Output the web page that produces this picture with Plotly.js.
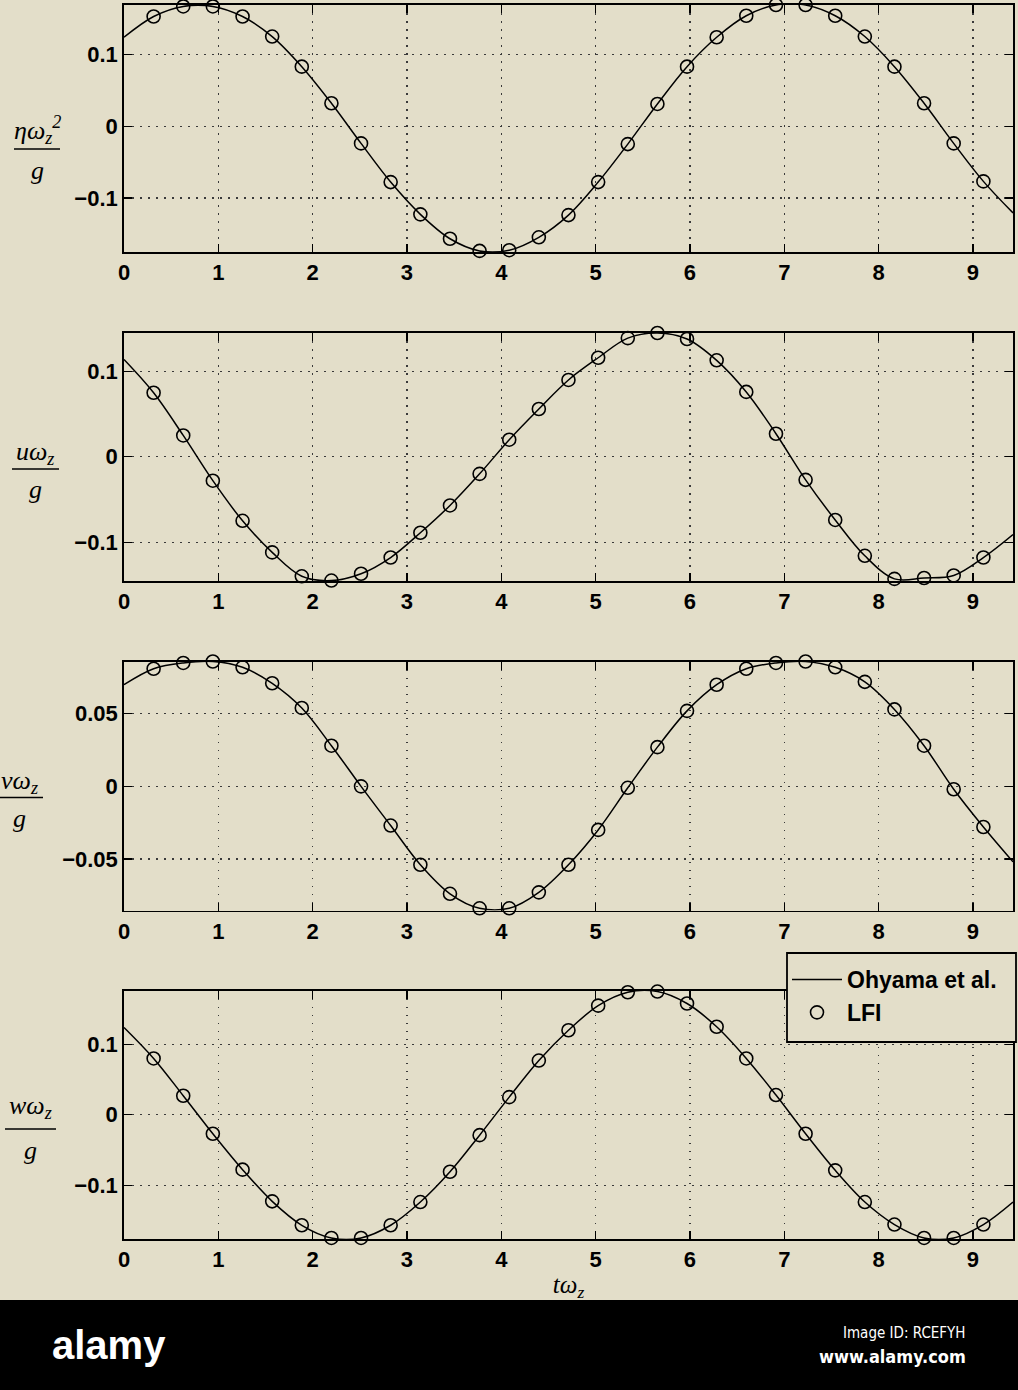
<!DOCTYPE html>
<html><head><meta charset="utf-8">
<script src="https://cdn.plot.ly/plotly-3.0.1.min.js"></script>
<style>html,body{margin:0;padding:0;background:#e3dec9;}#chart{width:1018px;height:1390px;}</style>
</head><body><div id="chart"></div>
<script>
// time samples (t*omega_z)
const tLine = [0, 0.314, 0.628, 0.942, 1.257, 1.571, 1.885, 2.199, 2.513, 2.827, 3.142, 3.456, 3.770, 4.084, 4.398, 4.712, 5.027, 5.341, 5.655, 5.969, 6.283, 6.597, 6.912, 7.226, 7.540, 7.854, 8.168, 8.482, 8.796, 9.111, 9.425];
const tLFI = [0.314, 0.628, 0.942, 1.257, 1.571, 1.885, 2.199, 2.513, 2.827, 3.142, 3.456, 3.770, 4.084, 4.398, 4.712, 5.027, 5.341, 5.655, 5.969, 6.283, 6.597, 6.912, 7.226, 7.540, 7.854, 8.168, 8.482, 8.796, 9.111];

// Ohyama et al. (line)
const etaOhyama = [0.124, 0.153, 0.167, 0.167, 0.153, 0.125, 0.083, 0.032, -0.024, -0.078, -0.123, -0.157, -0.174, -0.173, -0.155, -0.124, -0.078, -0.025, 0.031, 0.083, 0.124, 0.154, 0.169, 0.169, 0.154, 0.125, 0.083, 0.032, -0.024, -0.077, -0.121];
const uOhyama = [0.114, 0.075, 0.025, -0.028, -0.075, -0.112, -0.140, -0.145, -0.137, -0.118, -0.089, -0.057, -0.020, 0.020, 0.056, 0.090, 0.116, 0.139, 0.145, 0.138, 0.113, 0.076, 0.027, -0.027, -0.074, -0.116, -0.143, -0.142, -0.139, -0.118, -0.091];
const vOhyama = [0.070, 0.081, 0.085, 0.086, 0.082, 0.071, 0.054, 0.028, 0.000, -0.027, -0.054, -0.074, -0.084, -0.084, -0.073, -0.054, -0.030, -0.001, 0.027, 0.052, 0.070, 0.081, 0.085, 0.086, 0.082, 0.072, 0.053, 0.028, -0.002, -0.028, -0.052];
const wOhyama = [0.124, 0.080, 0.027, -0.027, -0.078, -0.123, -0.157, -0.175, -0.175, -0.157, -0.124, -0.081, -0.029, 0.025, 0.077, 0.120, 0.155, 0.174, 0.175, 0.158, 0.125, 0.080, 0.028, -0.027, -0.079, -0.124, -0.156, -0.175, -0.175, -0.156, -0.124];

// LFI (circles)
const etaLFI = [0.153, 0.167, 0.167, 0.153, 0.125, 0.083, 0.032, -0.024, -0.078, -0.123, -0.157, -0.174, -0.173, -0.155, -0.124, -0.078, -0.025, 0.031, 0.083, 0.124, 0.154, 0.169, 0.169, 0.154, 0.125, 0.083, 0.032, -0.024, -0.077];
const uLFI = [0.075, 0.025, -0.028, -0.075, -0.112, -0.140, -0.145, -0.137, -0.118, -0.089, -0.057, -0.020, 0.020, 0.056, 0.090, 0.116, 0.139, 0.145, 0.138, 0.113, 0.076, 0.027, -0.027, -0.074, -0.116, -0.143, -0.142, -0.139, -0.118];
const vLFI = [0.081, 0.085, 0.086, 0.082, 0.071, 0.054, 0.028, 0.000, -0.027, -0.054, -0.074, -0.084, -0.084, -0.073, -0.054, -0.030, -0.001, 0.027, 0.052, 0.070, 0.081, 0.085, 0.086, 0.082, 0.072, 0.053, 0.028, -0.002, -0.028];
const wLFI = [0.080, 0.027, -0.027, -0.078, -0.123, -0.157, -0.175, -0.175, -0.157, -0.124, -0.081, -0.029, 0.025, 0.077, 0.120, 0.155, 0.174, 0.175, 0.158, 0.125, 0.080, 0.028, -0.027, -0.079, -0.124, -0.156, -0.175, -0.175, -0.156];

const seriesNames = ['Ohyama et al.', 'LFI'];
const yTickVals = [[-0.1, 0, 0.1], [-0.1, 0, 0.1], [-0.05, 0, 0.05], [-0.1, 0, 0.1]];
const yRanges = [[-0.1755, 0.169], [-0.1455, 0.145], [-0.0855, 0.086], [-0.1765, 0.1765]];
const xTickVals = [0, 1, 2, 3, 4, 5, 6, 7, 8, 9];

const lines = [etaOhyama, uOhyama, vOhyama, wOhyama];
const dots = [etaLFI, uLFI, vLFI, wLFI];

const W = 1018, H = 1390;
const px = v => v / W, py = v => 1 - v / H;
const BG = '#e3dec9';
const sans = 'Liberation Sans, Arial, Helvetica, sans-serif';
const serif = 'Liberation Serif, DejaVu Serif, Times New Roman, serif';

// panel boxes in pixels: [top, bottom]
const boxes = [[5, 252], [333, 581], [661.5, 910.5], [990.5, 1239]];
const xDom = [px(124), px(1013)];

const data = [];
const layout = {
  width: W, height: H,
  margin: {l: 0, r: 0, t: 0, b: 0},
  paper_bgcolor: BG, plot_bgcolor: BG,
  font: {family: sans, color: '#000', size: 22},
  showlegend: true,
  legend: {
    x: px(787), y: py(958), xanchor: 'left', yanchor: 'top',
    bgcolor: 'rgba(0,0,0,0)', borderwidth: 0,
    font: {family: sans, size: 23, color: '#000', weight: 'bold'},
    itemwidth: 50, tracegroupgap: 0
  },
  shapes: [], annotations: []
};

for (let i = 0; i < 4; i++) {
  const sfx = i === 0 ? '' : String(i + 1);
  data.push({
    x: tLine, y: lines[i], type: 'scatter', mode: 'lines',
    name: seriesNames[0], showlegend: i === 0, legendgroup: 'g',
    line: {color: '#000', width: 1.5, shape: 'spline', smoothing: 1},
    xaxis: 'x' + sfx, yaxis: 'y' + sfx, cliponaxis: false
  });
  data.push({
    x: tLFI, y: dots[i], type: 'scatter', mode: 'markers',
    name: seriesNames[1], showlegend: i === 0, legendgroup: 'g',
    marker: {symbol: 'circle-open', size: 13, color: '#000', line: {width: 1.6, color: '#000'}},
    xaxis: 'x' + sfx, yaxis: 'y' + sfx, cliponaxis: false
  });
  const common = {
    ticks: 'inside', ticklen: 8, tickwidth: 1.3, tickcolor: '#000',
    showline: true, linecolor: '#000', linewidth: 1.8, mirror: 'ticks',
    showgrid: true, gridcolor: '#3a3a3a', gridwidth: 1.3, griddash: '1.5px,6.5px',
    zeroline: false, fixedrange: true,
    tickfont: {family: sans, size: 22, color: '#000', weight: 'bold'}
  };
  layout['xaxis' + sfx] = Object.assign({}, common, {
    domain: xDom, range: [0, 9.4248], tickvals: xTickVals,
    anchor: 'y' + sfx
  });
  layout['yaxis' + sfx] = Object.assign({}, common, {
    domain: [py(boxes[i][1]), py(boxes[i][0])], range: yRanges[i],
    tickvals: yTickVals[i], anchor: 'x' + sfx, ticklabelstandoff: 0
  });
}
layout.xaxis4.title = {text: '<i>tω<sub>z</sub></i>', font: {family: serif, size: 25, color: '#000'}, standoff: 4};

// legend frame (covers the top-right corner of the last panel)
layout.shapes.push({type: 'rect', xref: 'paper', yref: 'paper', x0: px(787), x1: px(1016),
  y0: py(1042), y1: py(953), fillcolor: BG, line: {color: '#000', width: 1.8}, layer: 'above'});

// y-axis labels drawn as fractions
const yLabels = [
  {num: '<i>ηω<sub>z</sub><sup>2</sup></i>', cx: 37, ny: 130, by: 149, bx0: 14, bx1: 60, gy: 171},
  {num: '<i>uω<sub>z</sub></i>', cx: 35, ny: 453, by: 469, bx0: 12, bx1: 59, gy: 489},
  {num: '<i>vω<sub>z</sub></i>', cx: 19, ny: 782, by: 797.5, bx0: 0, bx1: 43, gy: 818},
  {num: '<i>wω<sub>z</sub></i>', cx: 30, ny: 1107, by: 1129, bx0: 5, bx1: 56, gy: 1150}
];
yLabels.forEach(l => {
  layout.annotations.push({xref: 'paper', yref: 'paper', x: px(l.cx), y: py(l.ny), text: l.num,
    showarrow: false, xanchor: 'center', yanchor: 'middle', font: {family: serif, size: 26, color: '#000'}});
  layout.annotations.push({xref: 'paper', yref: 'paper', x: px(l.cx), y: py(l.gy), text: '<i>g</i>',
    showarrow: false, xanchor: 'center', yanchor: 'middle', font: {family: serif, size: 26, color: '#000'}});
  layout.shapes.push({type: 'line', xref: 'paper', yref: 'paper', x0: px(l.bx0), x1: px(l.bx1),
    y0: py(l.by), y1: py(l.by), line: {color: '#000', width: 1.6}});
});

// bottom banner
layout.shapes.push({type: 'rect', xref: 'paper', yref: 'paper', x0: 0, x1: 1, y0: 0, y1: py(1300),
  fillcolor: '#000', line: {width: 0}, layer: 'above'});
layout.annotations.push({xref: 'paper', yref: 'paper', x: px(50), y: py(1345), text: '<b>alamy</b>',
  showarrow: false, xanchor: 'left', yanchor: 'middle',
  font: {family: 'Liberation Sans Narrow, Arial Narrow, ' + sans, size: 40, color: '#fff'}});
layout.annotations.push({xref: 'paper', yref: 'paper', x: px(968), y: py(1333), text: 'Image ID: RCEFYH',
  showarrow: false, xanchor: 'right', yanchor: 'middle',
  font: {family: 'DejaVu Sans Condensed, Liberation Sans Narrow, ' + sans, size: 15, color: '#fff'}});
layout.annotations.push({xref: 'paper', yref: 'paper', x: px(968), y: py(1356), text: 'www.alamy.com',
  showarrow: false, xanchor: 'right', yanchor: 'middle',
  font: {family: 'DejaVu Sans Condensed, Liberation Sans Narrow, ' + sans, size: 18, color: '#fff', weight: 'bold'}});

Plotly.newPlot('chart', data, layout, {displayModeBar: false, staticPlot: true});
</script>
</body></html>
